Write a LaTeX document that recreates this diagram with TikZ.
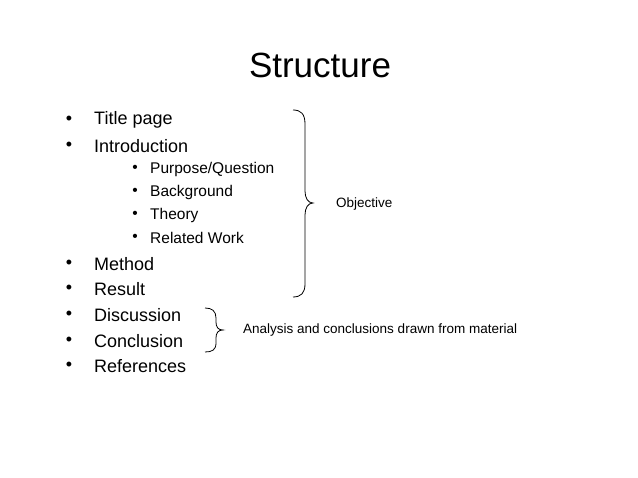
\documentclass[tikz,border=0pt]{standalone}
\usepackage{fontspec}
\setmainfont{Liberation Sans}
\begin{document}
\begin{tikzpicture}[x=1pt,y=-1pt,
  main/.style={anchor=west,font=\fontsize{18}{20}\selectfont,inner sep=0},
  sub/.style={anchor=west,font=\fontsize{15.5}{18}\selectfont,inner sep=0},
  lbl/.style={anchor=west,font=\fontsize{13.5}{16}\selectfont,inner sep=0},
  brace/.style={line width=0.8pt}]
\useasboundingbox (0,0) rectangle (638,478);
\node[font=\fontsize{35}{40}\selectfont] (title) at (320,65) {Structure};
\foreach \t/\y [count=\i] in {Title page/120,Introduction/146,Method/264,Result/289,Discussion/315,Conclusion/341,References/366}{
  \node[main] (m\i) at (94,\y) {\t};
  \node[anchor=center,font=\fontsize{18}{20}\selectfont] (b\i) at (69,\y) {•};
}
\foreach \t/\y [count=\i] in {{Purpose/Question}/169,Background/192,Theory/215,Related Work/238}{
  \node[sub] (s\i) at (150,\y) {\t};
  \node[anchor=center,font=\fontsize{15.5}{18}\selectfont] (c\i) at (135,\y) {•};
}
\draw[brace] (293,110) .. controls (301,110) and (305,114) .. (305,124) -- (305,191)
  .. controls (305,198) and (308,203) .. (313,203)
  .. controls (308,203) and (305,208) .. (305,215) -- (305,284)
  .. controls (305,293) and (301,297) .. (293,297);
\node[lbl] (obj) at (336,204) {Objective};
\draw[brace] (205,308) .. controls (212,308) and (216,311) .. (216,318) -- (216,322)
  .. controls (216,327) and (218,330) .. (223,330)
  .. controls (218,330) and (216,333) .. (216,338) -- (216,343)
  .. controls (216,350) and (212,352) .. (205,352);
\node[lbl] (ana) at (243,330) {Analysis and conclusions drawn from material};
\end{tikzpicture}
\end{document}
